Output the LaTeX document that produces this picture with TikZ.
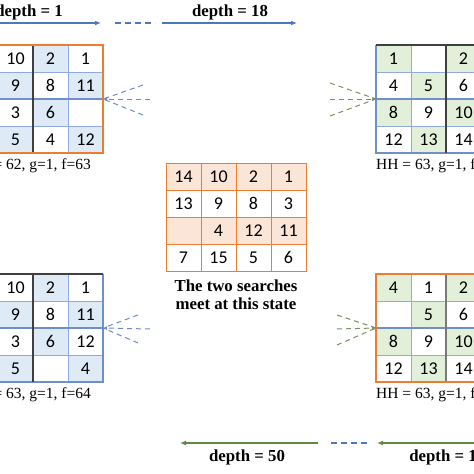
\documentclass[tikz,border=0pt]{standalone}
\usepackage{fontspec}
\setmainfont{Liberation Serif}
\newfontfamily\cellfont{Carlito}
\usetikzlibrary{arrows.meta, positioning}

\definecolor{edgeorange}{HTML}{ED7D31}
\definecolor{fillorange}{HTML}{FBE5D6}
\definecolor{fillblue}{HTML}{DEEBF7}
\definecolor{fillgreen}{HTML}{E2F0D9}
\definecolor{lineblue}{HTML}{8FAADC}
\definecolor{midblue}{HTML}{6F8FCB}
\definecolor{linedark}{HTML}{404040}
\definecolor{arrowblue}{HTML}{4F77BE}
\definecolor{arrowgreen}{HTML}{5F8A44}
\definecolor{olivedash}{HTML}{7A8F62}

% one 4x4 board: name, left x, top y, shade colour, rows
\newcommand{\pgrid}[5]{%
  \foreach \row [count=\r from 0] in {#5} {
    \foreach \val [count=\c from 0] in \row {
      \pgfmathtruncatemacro{\odd}{mod(\r+\c,2)}
      \ifnum\odd=0 \def\cellfill{#4}\else\def\cellfill{white}\fi
      \node (#1-\r-\c) [cell, fill=\cellfill] at ({#2+17.5+35*\c},{#3+13.5+27*\r}) {\val};
    }
  }
}

\begin{document}
\begin{tikzpicture}[x=1pt, y=-1pt]
\tikzstyle{cell}=[draw=lineblue, line width=0.8pt, minimum width=35pt, minimum height=27pt, inner sep=0pt, outer sep=0pt, font=\cellfont\fontsize{18}{20}\selectfont]
\tikzstyle{midcell}=[cell, draw=edgeorange]
\tikzstyle{orangeedge}=[edgeorange, line width=1.6pt]
\tikzstyle{darkedge}=[linedark, line width=1.3pt]
\tikzstyle{blueedge}=[midblue, line width=1.3pt]
\tikzstyle{depthblue}=[arrowblue, line width=1.3pt, -{Latex[length=6pt,width=5pt]}]
\tikzstyle{depthgreen}=[arrowgreen, line width=1.3pt, -{Latex[length=6pt,width=5pt]}]
\tikzstyle{gapdash}=[arrowblue, line width=1.3pt, dash pattern=on 6pt off 4pt]
\tikzstyle{fanblue}=[arrowblue!85, line width=1pt, dash pattern=on 5pt off 4pt]
\tikzstyle{fanolive}=[olivedash, line width=1pt, dash pattern=on 5pt off 4pt]
\tikzstyle{depthlabel}=[font=\bfseries\fontsize{16.8}{18}\selectfont, inner sep=0pt, anchor=base]
\tikzstyle{hhlabel}=[font=\fontsize{15.5}{17}\selectfont, inner sep=0pt]
\useasboundingbox (0,0) rectangle (474,474);

    % boards
    \pgrid{tl}{-37}{45}{fillblue}{{{},10,2,1},{{},9,8,11},{{},3,6,{}},{{},5,4,12}}
    \pgrid{bl}{-37}{274}{fillblue}{{{},10,2,1},{{},9,8,11},{{},3,6,12},{{},5,{},4}}
    \pgrid{tr}{376}{45}{fillgreen}{{1,{},2,{}},{4,5,6,{}},{8,9,10,{}},{12,13,14,{}}}
    \pgrid{br}{376}{274}{fillgreen}{{4,1,2,{}},{{},5,6,{}},{8,9,10,{}},{12,13,14,{}}}

    \foreach \row [count=\r from 0] in {{14,10,2,1},{13,9,8,3},{{},4,12,11},{7,15,5,6}} {
      \foreach \val [count=\c from 0] in \row {
        \ifodd\r \def\cellfill{white}\else\def\cellfill{fillorange}\fi
        \node (mid-\r-\c) [midcell, fill=\cellfill] at ({166+17.5+35*\c},{163+13.5+27*\r}) {\val};
      }
    }

    % board edges
    \draw[blueedge] (tl-1-0.south west) -- (tl-1-3.south east);
    \draw[darkedge] (tl-0-1.north east) -- (tl-3-1.south east);
    \draw[orangeedge] (tl-0-0.north west) -- (tl-0-3.north east) -- (tl-3-3.south east) -- (tl-3-0.south west);

    \draw[blueedge] (bl-1-0.south west) -- (bl-1-3.south east);
    \draw[blueedge] (bl-0-3.north east) -- (bl-3-3.south east) -- (bl-3-0.south west);
    \draw[darkedge] (bl-0-1.north east) -- (bl-3-1.south east);
    \draw[darkedge] (bl-0-0.north west) -- (bl-0-3.north east);

    \draw[blueedge] (tr-1-0.south west) -- (tr-1-3.south east);
    \draw[blueedge] (tr-0-0.north west) -- (tr-3-0.south west) -- (tr-3-3.south east);
    \draw[darkedge] (tr-0-1.north east) -- (tr-3-1.south east);
    \draw[darkedge] (tr-0-0.north west) -- (tr-0-3.north east);

    \draw[blueedge] (br-1-0.south west) -- (br-1-3.south east);
    \draw[darkedge, linedark!70] (br-0-1.north east) -- (br-3-1.south east);
    \draw[orangeedge] (br-0-3.north east) -- (br-0-0.north west) -- (br-3-0.south west) -- (br-3-3.south east);

    \draw[orangeedge, line width=1pt] (mid-0-0.north west) rectangle (mid-3-3.south east);

    % captions
    \node (tlcap) [hhlabel, anchor=base east] at (91,169) {HH = 62, g=1, f=63};
    \node (blcap) [hhlabel, anchor=base east] at (91,398) {HH = 63, g=1, f=64};
    \node (trcap) [hhlabel, anchor=base west] at (376,169) {HH = 63, g=1, f=64};
    \node (brcap) [hhlabel, anchor=base west] at (376,398) {HH = 63, g=1, f=64};
    \node (meet) [font=\bfseries\fontsize{16.8}{18}\selectfont, align=center, inner sep=0pt, anchor=north] at (236,280) {The two searches\\meet at this state};

    % fans of dashed moves
    \coordinate (tlfanup) at (143,85);
    \coordinate (tlfanmid) at (150,99);
    \coordinate (tlfanlow) at (143,115);
    \draw[fanblue] (tlfanup) -- (tl-1-3.south east);
    \draw[fanblue] (tlfanlow) -- (tl-1-3.south east);
    \draw[fanblue, -{Latex[length=4pt,width=4pt]}] (tlfanmid) -- (tl-1-3.south east);

    \coordinate (blfanup) at (138,315);
    \coordinate (blfanmid) at (150,329);
    \coordinate (blfanlow) at (138,343);
    \draw[fanblue] (blfanup) -- (bl-1-3.south east);
    \draw[fanblue] (blfanlow) -- (bl-1-3.south east);
    \draw[fanblue, -{Latex[length=4pt,width=4pt]}] (blfanmid) -- (bl-1-3.south east);

    \coordinate (trfanup) at (330,83);
    \coordinate (trfanmid) at (330,99);
    \coordinate (trfanlow) at (330,116);
    \draw[fanolive] (trfanup) -- (tr-1-0.south west);
    \draw[fanolive] (trfanlow) -- (tr-1-0.south west);
    \draw[fanolive, -{Latex[length=4pt,width=4pt]}] (trfanmid) -- (tr-1-0.south west);

    \coordinate (brfanup) at (337,315);
    \coordinate (brfanmid) at (337,329);
    \coordinate (brfanlow) at (337,345);
    \draw[fanolive] (brfanup) -- (br-1-0.south west);
    \draw[fanolive] (brfanlow) -- (br-1-0.south west);
    \draw[fanolive, -{Latex[length=4pt,width=4pt]}] (brfanmid) -- (br-1-0.south west);

    % depth arrows
    \coordinate (fwa) at (-5,23);
    \coordinate (fwb) at (101,23);
    \coordinate (fwc) at (115,23);
    \coordinate (fwd) at (155,23);
    \coordinate (fwe) at (162,23);
    \coordinate (fwf) at (297,23);
    \draw[depthblue] (fwa) -- (fwb);
    \draw[gapdash] (fwc) -- (fwd);
    \draw[depthblue] (fwe) -- (fwf);
    \node (fwone) [depthlabel] at (29,16) {depth = 1};
    \node (fwlast) [depthlabel] at (230,16) {depth = 18};

    \coordinate (bwa) at (480,443);
    \coordinate (bwb) at (377,443);
    \coordinate (bwc) at (367,443);
    \coordinate (bwd) at (328,443);
    \coordinate (bwe) at (318,443);
    \coordinate (bwf) at (180,443);
    \draw[depthgreen] (bwa) -- (bwb);
    \draw[gapdash] (bwc) -- (bwd);
    \draw[depthgreen] (bwe) -- (bwf);
    \node (bwone) [depthlabel] at (443,461) {depth = 1};
    \node (bwlast) [depthlabel] at (247,461) {depth = 50};
\end{tikzpicture}
\end{document}
